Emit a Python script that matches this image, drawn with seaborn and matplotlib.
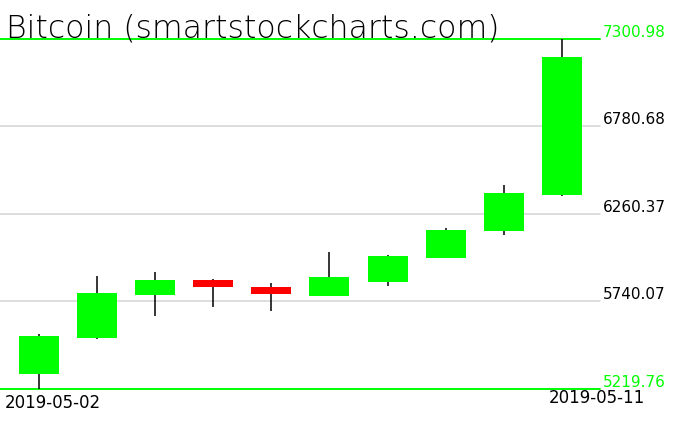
import matplotlib
matplotlib.use("Agg")
import matplotlib.pyplot as plt
import matplotlib.transforms as mtransforms
import seaborn as sns
import pandas as pd

dates = ["2019-05-02", "2019-05-03", "2019-05-04", "2019-05-05", "2019-05-06",
         "2019-05-07", "2019-05-08", "2019-05-09", "2019-05-10", "2019-05-11"]
opens = [5310.8, 5523.1, 5778.7, 5867.9, 5826.3, 5772.8, 5856.1, 6000.5, 6161.1, 6375.2]
closes = [5535.0, 5790.6, 5867.9, 5828.1, 5784.7, 5885.8, 6010.7, 6165.3, 6385.3, 7194.0]
highs = [5546.8, 5891.7, 5915.5, 5873.9, 5850.1, 6034.4, 6016.6, 6177.1, 6434.6, 7300.98]
lows = [5219.76, 5517.1, 5655.7, 5709.2, 5683.6, 5770.0, 5832.3, 6000.0, 6137.3, 6370.0]
yticks = [5219.76, 5740.07, 6260.37, 6780.68, 7300.98]

df = pd.DataFrame({"date": dates, "open": opens, "close": closes, "high": highs, "low": lows})
df["pos"] = range(len(df))
df["color"] = ["#00ff00" if c >= o else "#ff0000" for o, c in zip(df["open"], df["close"])]

sns.set_theme(style="white")
plt.rcParams['font.family'] = ['DejaVu Sans']

W, H = 676, 431
fig = plt.figure(figsize=(W / 100, H / 100), dpi=100)
ax = fig.add_axes([0, 41 / H, 600 / W, 350 / H])

# grid + min/max lines
for v in yticks:
    edge = v in (yticks[0], yticks[-1])
    ax.axhline(v, color="#00ff00" if edge else "#d3d3d3", lw=1.4 if edge else 1.1,
               zorder=1, clip_on=False)

# wicks and bodies
ax.vlines(df["pos"], df["low"], df["high"], color="black", lw=1.1, zorder=2)
ax.bar(df["pos"], df["close"] - df["open"], bottom=df["open"], width=0.688,
       color=df["color"], edgecolor="none", zorder=3)

ax.set_xlim(-0.671, 9.656)
ax.set_ylim(yticks[0], yticks[-1])
ax.set_xticks([])
ax.set_yticks([])
for s in ax.spines.values():
    s.set_visible(False)
ax.patch.set_alpha(0)

# right-side price labels
trans = mtransforms.blended_transform_factory(ax.transAxes, ax.transData)
for v in yticks:
    edge = v in (yticks[0], yticks[-1])
    ax.text(603 / 600, v, f"{v:.2f}", transform=trans, ha="left", va="bottom",
            fontsize=11, color="#00ff00" if edge else "black", clip_on=False)

# date labels
fig.text(5 / W, 1 - 394 / H, dates[0], ha="left", va="top", fontsize=12, color="black")
fig.text(645 / W, 1 - 389 / H, dates[-1], ha="right", va="top", fontsize=12, color="black")

fig.text(6 / W, 1 - 37.5 / H, "Bitcoin (smartstockcharts.com)", ha="left", va="baseline",
         fontsize=22.7, fontweight="light", color="black")

fig.savefig("out.png", dpi=100)
